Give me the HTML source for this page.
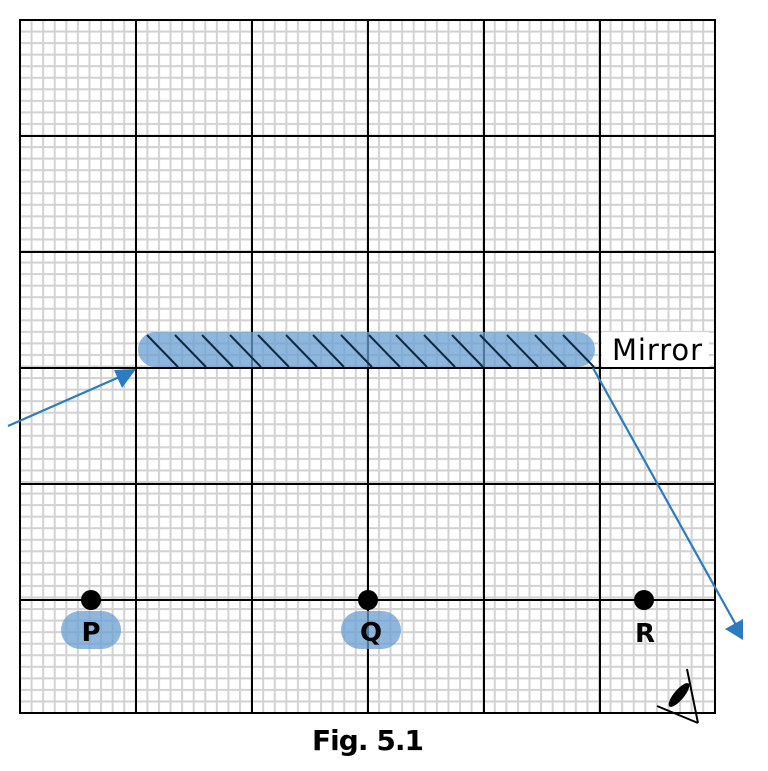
<!DOCTYPE html>
<html><head><meta charset="utf-8"><style>
html,body{margin:0;padding:0;background:#fff;width:768px;height:771px;overflow:hidden}
svg{display:block}
</style></head><body>
<svg width="768" height="771" viewBox="0 0 768 771" xmlns="http://www.w3.org/2000/svg">
<defs>
<pattern id="mg" x="19" y="19" width="11.58" height="11.55" patternUnits="userSpaceOnUse">
<path d="M1 0V11.55M0 1H11.58" stroke="#d2d2d2" stroke-width="2" fill="none"/>
</pattern>
</defs>
<rect x="20" y="20" width="695" height="693" fill="url(#mg)"/>
<g stroke="#000" stroke-width="2" fill="none">
<rect x="20" y="20" width="695" height="693"/>
<path d="M136 20V713M252 20V713M368 20V713M484 20V713M600 20V713"/>
<path d="M20 136H715M20 252H715M20 368H715M20 484H715M20 600H715"/>
</g>
<rect x="602" y="332" width="107" height="35" fill="#fff"/>
<text x="612" y="360" font-family="DejaVu Sans, sans-serif" font-size="29" textLength="90" fill="#000">Mirror</text>
<rect x="138" y="332" width="457" height="35" rx="17.5" fill="#6a9fd3" fill-opacity="0.75"/>
<g stroke="#0d2a45" stroke-width="2">
<path d="M147 335l31 32M175 335l31 32M202 335l31 32M230 335l31 32M258 335l31 32M286 335l31 32M313 335l31 32M341 335l31 32M369 335l31 32M396 335l31 32M424 335l31 32M452 335l31 32M480 335l31 32M507 335l31 32M535 335l31 32M563 335l31 32"/>
</g>
<g stroke="#2a7bc4" stroke-width="2.2" fill="#2a7bc4">
<line x1="8" y1="426" x2="124" y2="375"/>
<path d="M136 369L114 370L122 388Z" stroke="none"/>
<line x1="593" y1="368" x2="736" y2="625"/>
<path d="M743 640L725 629L743 619Z" stroke="none"/>
</g>
<rect x="61" y="611" width="60" height="38" rx="19" fill="#6a9fd3" fill-opacity="0.75"/>
<rect x="341" y="611" width="60" height="38" rx="19" fill="#6a9fd3" fill-opacity="0.75"/>
<circle cx="91" cy="600" r="10" fill="#000"/>
<circle cx="368" cy="600" r="10" fill="#000"/>
<circle cx="644" cy="600" r="10" fill="#000"/>
<g font-family="DejaVu Sans, sans-serif" font-weight="bold" font-size="26" text-anchor="middle" fill="#000">
<text x="91" y="641">P</text>
<text x="371" y="641">Q</text>
<text x="645" y="642">R</text>
</g>
<g stroke="#000" stroke-width="2" fill="none">
<line x1="687" y1="669" x2="698" y2="723"/>
<line x1="657" y1="706" x2="698" y2="723"/>
</g>
<ellipse cx="679" cy="695" rx="5" ry="15" transform="rotate(40 679 695)" fill="#000"/>
<text x="368" y="750" font-family="DejaVu Sans, sans-serif" font-weight="bold" font-size="28" textLength="112" text-anchor="middle" fill="#000">Fig. 5.1</text>
</svg>
</body></html>
